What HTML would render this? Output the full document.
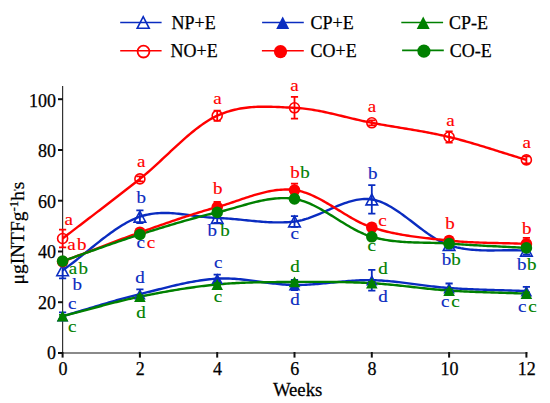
<!DOCTYPE html>
<html><head><meta charset="utf-8"><style>
html,body{margin:0;padding:0;background:#fff;}
svg{display:block;}
.t{font-family:"Liberation Serif",serif;font-size:18px;}
.k{stroke:#000;stroke-width:0.25px;}
</style></head><body>
<svg width="550" height="403" viewBox="0 0 550 403">
<rect width="550" height="403" fill="#fff"/>
<line x1="62.6" y1="86" x2="62.6" y2="353" stroke="#333" stroke-width="1.2"/>
<line x1="62.6" y1="352.9" x2="527.4" y2="352.9" stroke="#8a8a8a" stroke-width="2"/>
<line x1="58" y1="353.0" x2="63" y2="353.0" stroke="#111" stroke-width="2"/>
<text x="56" y="359.0" text-anchor="end" class="t k">0</text>
<line x1="58" y1="302.2" x2="63" y2="302.2" stroke="#111" stroke-width="2"/>
<text x="56" y="308.6" text-anchor="end" class="t k">20</text>
<line x1="58" y1="251.5" x2="63" y2="251.5" stroke="#111" stroke-width="2"/>
<text x="56" y="258.2" text-anchor="end" class="t k">40</text>
<line x1="58" y1="200.7" x2="63" y2="200.7" stroke="#111" stroke-width="2"/>
<text x="56" y="207.7" text-anchor="end" class="t k">60</text>
<line x1="58" y1="150.0" x2="63" y2="150.0" stroke="#111" stroke-width="2"/>
<text x="56" y="157.3" text-anchor="end" class="t k">80</text>
<line x1="58" y1="99.2" x2="63" y2="99.2" stroke="#111" stroke-width="2"/>
<text x="56" y="106.9" text-anchor="end" class="t k">100</text>
<line x1="62.6" y1="352" x2="62.6" y2="357.6" stroke="#111" stroke-width="2"/>
<text x="62.9" y="374.5" text-anchor="middle" class="t k">0</text>
<line x1="139.9" y1="352" x2="139.9" y2="357.6" stroke="#111" stroke-width="2"/>
<text x="140.2" y="374.5" text-anchor="middle" class="t k">2</text>
<line x1="217.2" y1="352" x2="217.2" y2="357.6" stroke="#111" stroke-width="2"/>
<text x="217.5" y="374.5" text-anchor="middle" class="t k">4</text>
<line x1="294.5" y1="352" x2="294.5" y2="357.6" stroke="#111" stroke-width="2"/>
<text x="294.8" y="374.5" text-anchor="middle" class="t k">6</text>
<line x1="371.8" y1="352" x2="371.8" y2="357.6" stroke="#111" stroke-width="2"/>
<text x="372.1" y="374.5" text-anchor="middle" class="t k">8</text>
<line x1="449.1" y1="352" x2="449.1" y2="357.6" stroke="#111" stroke-width="2"/>
<text x="449.4" y="374.5" text-anchor="middle" class="t k">10</text>
<line x1="526.4" y1="352" x2="526.4" y2="357.6" stroke="#111" stroke-width="2"/>
<text x="526.7" y="374.5" text-anchor="middle" class="t k">12</text>
<text transform="translate(297.6,395.5) scale(1.04,1)" text-anchor="middle" class="t k">Weeks</text>
<text transform="translate(23.9,284.5) rotate(-90) scale(1.08,1)" class="t k">μgINTFg<tspan dy="-6" font-size="12">-1</tspan><tspan dy="6">h</tspan><tspan dy="-4" style="font-size:9px">&#39;</tspan><tspan dy="4">s</tspan></text>
<path d="M62.60,238.54 L64.53,237.05 L66.47,235.56 L68.40,234.07 L70.33,232.59 L72.26,231.11 L74.20,229.62 L76.13,228.14 L78.06,226.66 L79.99,225.19 L81.92,223.71 L83.86,222.23 L85.79,220.76 L87.72,219.28 L89.66,217.80 L91.59,216.33 L93.52,214.85 L95.45,213.37 L97.38,211.89 L99.32,210.42 L101.25,208.94 L103.18,207.46 L105.12,205.97 L107.05,204.49 L108.98,203.01 L110.91,201.52 L112.84,200.03 L114.78,198.54 L116.71,197.05 L118.64,195.55 L120.57,194.05 L122.51,192.55 L124.44,191.05 L126.37,189.54 L128.31,188.03 L130.24,186.52 L132.17,185.00 L134.10,183.48 L136.03,181.96 L137.97,180.43 L139.90,178.89 L141.83,177.34 L143.77,175.75 L145.70,174.12 L147.63,172.47 L149.56,170.79 L151.50,169.08 L153.43,167.35 L155.36,165.60 L157.29,163.83 L159.22,162.05 L161.16,160.25 L163.09,158.45 L165.02,156.65 L166.96,154.83 L168.89,153.02 L170.82,151.21 L172.75,149.41 L174.69,147.62 L176.62,145.83 L178.55,144.06 L180.48,142.30 L182.41,140.57 L184.35,138.85 L186.28,137.16 L188.21,135.50 L190.15,133.87 L192.08,132.27 L194.01,130.70 L195.94,129.17 L197.88,127.69 L199.81,126.25 L201.74,124.85 L203.67,123.51 L205.60,122.21 L207.54,120.97 L209.47,119.79 L211.40,118.67 L213.34,117.61 L215.27,116.62 L217.20,115.70 L219.13,114.84 L221.06,114.03 L223.00,113.27 L224.93,112.57 L226.86,111.91 L228.79,111.30 L230.73,110.74 L232.66,110.22 L234.59,109.74 L236.52,109.30 L238.46,108.91 L240.39,108.55 L242.32,108.23 L244.25,107.94 L246.19,107.69 L248.12,107.47 L250.05,107.28 L251.99,107.12 L253.92,106.99 L255.85,106.88 L257.78,106.79 L259.72,106.73 L261.65,106.69 L263.58,106.68 L265.51,106.68 L267.45,106.69 L269.38,106.72 L271.31,106.77 L273.24,106.83 L275.18,106.89 L277.11,106.97 L279.04,107.06 L280.97,107.15 L282.91,107.24 L284.84,107.34 L286.77,107.44 L288.70,107.54 L290.63,107.64 L292.57,107.74 L294.50,107.83 L296.43,107.93 L298.37,108.06 L300.30,108.22 L302.23,108.40 L304.16,108.61 L306.10,108.84 L308.03,109.10 L309.96,109.37 L311.89,109.67 L313.82,109.98 L315.76,110.32 L317.69,110.67 L319.62,111.03 L321.56,111.41 L323.49,111.80 L325.42,112.21 L327.35,112.63 L329.29,113.06 L331.22,113.49 L333.15,113.94 L335.08,114.39 L337.02,114.84 L338.95,115.31 L340.88,115.77 L342.81,116.24 L344.75,116.71 L346.68,117.18 L348.61,117.65 L350.54,118.11 L352.48,118.58 L354.41,119.04 L356.34,119.49 L358.27,119.94 L360.21,120.38 L362.14,120.81 L364.07,121.23 L366.00,121.65 L367.94,122.04 L369.87,122.43 L371.80,122.80 L373.73,123.17 L375.67,123.52 L377.60,123.87 L379.53,124.22 L381.46,124.56 L383.40,124.89 L385.33,125.23 L387.26,125.56 L389.19,125.88 L391.12,126.21 L393.06,126.53 L394.99,126.85 L396.92,127.17 L398.86,127.49 L400.79,127.81 L402.72,128.13 L404.65,128.45 L406.59,128.77 L408.52,129.09 L410.45,129.42 L412.38,129.75 L414.31,130.08 L416.25,130.41 L418.18,130.75 L420.11,131.09 L422.05,131.43 L423.98,131.79 L425.91,132.14 L427.84,132.50 L429.78,132.87 L431.71,133.25 L433.64,133.63 L435.57,134.02 L437.51,134.42 L439.44,134.83 L441.37,135.25 L443.30,135.68 L445.24,136.11 L447.17,136.56 L449.10,137.02 L451.03,137.48 L452.97,137.96 L454.90,138.45 L456.83,138.95 L458.76,139.46 L460.70,139.97 L462.63,140.50 L464.56,141.03 L466.49,141.57 L468.43,142.12 L470.36,142.67 L472.29,143.23 L474.22,143.80 L476.16,144.37 L478.09,144.95 L480.02,145.53 L481.95,146.12 L483.89,146.71 L485.82,147.30 L487.75,147.90 L489.68,148.50 L491.62,149.10 L493.55,149.70 L495.48,150.31 L497.41,150.91 L499.35,151.52 L501.28,152.13 L503.21,152.73 L505.14,153.34 L507.07,153.95 L509.01,154.55 L510.94,155.15 L512.87,155.75 L514.81,156.35 L516.74,156.94 L518.67,157.54 L520.60,158.12 L522.53,158.71 L524.47,159.28 L526.40,159.86" fill="none" stroke="#ff0000" stroke-width="2.4"/>
<path d="M62.60,270.26 L64.53,268.91 L66.47,267.52 L68.40,266.10 L70.33,264.66 L72.26,263.19 L74.20,261.70 L76.13,260.20 L78.06,258.67 L79.99,257.14 L81.92,255.59 L83.86,254.03 L85.79,252.47 L87.72,250.90 L89.66,249.34 L91.59,247.77 L93.52,246.21 L95.45,244.65 L97.38,243.11 L99.32,241.58 L101.25,240.06 L103.18,238.56 L105.12,237.08 L107.05,235.62 L108.98,234.18 L110.91,232.78 L112.84,231.40 L114.78,230.05 L116.71,228.75 L118.64,227.47 L120.57,226.24 L122.51,225.05 L124.44,223.91 L126.37,222.82 L128.31,221.77 L130.24,220.78 L132.17,219.84 L134.10,218.97 L136.03,218.15 L137.97,217.40 L139.90,216.71 L141.83,216.09 L143.77,215.53 L145.70,215.04 L147.63,214.61 L149.56,214.23 L151.50,213.91 L153.43,213.64 L155.36,213.42 L157.29,213.25 L159.22,213.12 L161.16,213.03 L163.09,212.99 L165.02,212.98 L166.96,213.01 L168.89,213.07 L170.82,213.16 L172.75,213.28 L174.69,213.42 L176.62,213.59 L178.55,213.77 L180.48,213.98 L182.41,214.20 L184.35,214.43 L186.28,214.67 L188.21,214.93 L190.15,215.18 L192.08,215.44 L194.01,215.70 L195.94,215.96 L197.88,216.22 L199.81,216.46 L201.74,216.70 L203.67,216.93 L205.60,217.14 L207.54,217.34 L209.47,217.51 L211.40,217.67 L213.34,217.80 L215.27,217.90 L217.20,217.98 L219.13,218.05 L221.06,218.13 L223.00,218.24 L224.93,218.36 L226.86,218.49 L228.79,218.63 L230.73,218.79 L232.66,218.95 L234.59,219.13 L236.52,219.31 L238.46,219.49 L240.39,219.68 L242.32,219.88 L244.25,220.07 L246.19,220.27 L248.12,220.47 L250.05,220.66 L251.99,220.85 L253.92,221.03 L255.85,221.21 L257.78,221.39 L259.72,221.55 L261.65,221.70 L263.58,221.85 L265.51,221.98 L267.45,222.09 L269.38,222.19 L271.31,222.28 L273.24,222.34 L275.18,222.39 L277.11,222.42 L279.04,222.42 L280.97,222.41 L282.91,222.37 L284.84,222.30 L286.77,222.20 L288.70,222.08 L290.63,221.93 L292.57,221.75 L294.50,221.53 L296.43,221.26 L298.37,220.93 L300.30,220.52 L302.23,220.06 L304.16,219.53 L306.10,218.96 L308.03,218.34 L309.96,217.67 L311.89,216.97 L313.82,216.23 L315.76,215.45 L317.69,214.66 L319.62,213.84 L321.56,213.00 L323.49,212.15 L325.42,211.29 L327.35,210.43 L329.29,209.57 L331.22,208.71 L333.15,207.86 L335.08,207.02 L337.02,206.20 L338.95,205.41 L340.88,204.63 L342.81,203.89 L344.75,203.19 L346.68,202.52 L348.61,201.90 L350.54,201.33 L352.48,200.81 L354.41,200.34 L356.34,199.94 L358.27,199.60 L360.21,199.34 L362.14,199.14 L364.07,199.03 L366.00,199.00 L367.94,199.06 L369.87,199.21 L371.80,199.45 L373.73,199.80 L375.67,200.25 L377.60,200.81 L379.53,201.46 L381.46,202.19 L383.40,203.02 L385.33,203.92 L387.26,204.89 L389.19,205.94 L391.12,207.05 L393.06,208.22 L394.99,209.44 L396.92,210.71 L398.86,212.03 L400.79,213.38 L402.72,214.77 L404.65,216.19 L406.59,217.63 L408.52,219.09 L410.45,220.56 L412.38,222.05 L414.31,223.53 L416.25,225.02 L418.18,226.50 L420.11,227.96 L422.05,229.41 L423.98,230.84 L425.91,232.24 L427.84,233.61 L429.78,234.95 L431.71,236.24 L433.64,237.48 L435.57,238.67 L437.51,239.81 L439.44,240.88 L441.37,241.89 L443.30,242.82 L445.24,243.68 L447.17,244.45 L449.10,245.13 L451.03,245.75 L452.97,246.32 L454.90,246.84 L456.83,247.32 L458.76,247.75 L460.70,248.15 L462.63,248.50 L464.56,248.82 L466.49,249.10 L468.43,249.35 L470.36,249.57 L472.29,249.76 L474.22,249.92 L476.16,250.05 L478.09,250.17 L480.02,250.26 L481.95,250.33 L483.89,250.38 L485.82,250.41 L487.75,250.43 L489.68,250.44 L491.62,250.44 L493.55,250.43 L495.48,250.41 L497.41,250.39 L499.35,250.36 L501.28,250.33 L503.21,250.31 L505.14,250.28 L507.07,250.26 L509.01,250.25 L510.94,250.24 L512.87,250.25 L514.81,250.26 L516.74,250.29 L518.67,250.34 L520.60,250.40 L522.53,250.49 L524.47,250.59 L526.40,250.72" fill="none" stroke="#0a2cc0" stroke-width="2.4"/>
<path d="M62.60,261.63 L64.53,260.90 L66.47,260.17 L68.40,259.43 L70.33,258.70 L72.26,257.96 L74.20,257.22 L76.13,256.48 L78.06,255.73 L79.99,254.99 L81.92,254.25 L83.86,253.50 L85.79,252.76 L87.72,252.01 L89.66,251.26 L91.59,250.52 L93.52,249.77 L95.45,249.03 L97.38,248.29 L99.32,247.54 L101.25,246.80 L103.18,246.06 L105.12,245.32 L107.05,244.58 L108.98,243.85 L110.91,243.11 L112.84,242.38 L114.78,241.65 L116.71,240.92 L118.64,240.20 L120.57,239.47 L122.51,238.75 L124.44,238.04 L126.37,237.33 L128.31,236.62 L130.24,235.91 L132.17,235.21 L134.10,234.51 L136.03,233.82 L137.97,233.13 L139.90,232.44 L141.83,231.76 L143.77,231.08 L145.70,230.40 L147.63,229.72 L149.56,229.03 L151.50,228.35 L153.43,227.67 L155.36,226.99 L157.29,226.31 L159.22,225.64 L161.16,224.96 L163.09,224.29 L165.02,223.62 L166.96,222.95 L168.89,222.28 L170.82,221.62 L172.75,220.96 L174.69,220.30 L176.62,219.64 L178.55,218.99 L180.48,218.35 L182.41,217.70 L184.35,217.07 L186.28,216.43 L188.21,215.80 L190.15,215.18 L192.08,214.56 L194.01,213.94 L195.94,213.33 L197.88,212.73 L199.81,212.13 L201.74,211.54 L203.67,210.96 L205.60,210.38 L207.54,209.81 L209.47,209.25 L211.40,208.69 L213.34,208.14 L215.27,207.60 L217.20,207.06 L219.13,206.52 L221.06,205.96 L223.00,205.38 L224.93,204.78 L226.86,204.17 L228.79,203.54 L230.73,202.90 L232.66,202.26 L234.59,201.61 L236.52,200.95 L238.46,200.29 L240.39,199.64 L242.32,198.98 L244.25,198.33 L246.19,197.69 L248.12,197.05 L250.05,196.43 L251.99,195.82 L253.92,195.22 L255.85,194.64 L257.78,194.09 L259.72,193.55 L261.65,193.04 L263.58,192.55 L265.51,192.09 L267.45,191.66 L269.38,191.27 L271.31,190.91 L273.24,190.58 L275.18,190.30 L277.11,190.05 L279.04,189.85 L280.97,189.70 L282.91,189.59 L284.84,189.53 L286.77,189.52 L288.70,189.57 L290.63,189.68 L292.57,189.84 L294.50,190.06 L296.43,190.36 L298.37,190.73 L300.30,191.18 L302.23,191.70 L304.16,192.29 L306.10,192.94 L308.03,193.66 L309.96,194.43 L311.89,195.26 L313.82,196.13 L315.76,197.06 L317.69,198.02 L319.62,199.02 L321.56,200.06 L323.49,201.13 L325.42,202.23 L327.35,203.35 L329.29,204.50 L331.22,205.65 L333.15,206.83 L335.08,208.01 L337.02,209.20 L338.95,210.39 L340.88,211.57 L342.81,212.76 L344.75,213.93 L346.68,215.09 L348.61,216.24 L350.54,217.36 L352.48,218.46 L354.41,219.54 L356.34,220.58 L358.27,221.59 L360.21,222.56 L362.14,223.49 L364.07,224.37 L366.00,225.20 L367.94,225.98 L369.87,226.71 L371.80,227.37 L373.73,227.99 L375.67,228.58 L377.60,229.16 L379.53,229.71 L381.46,230.24 L383.40,230.75 L385.33,231.24 L387.26,231.71 L389.19,232.16 L391.12,232.60 L393.06,233.01 L394.99,233.41 L396.92,233.80 L398.86,234.16 L400.79,234.52 L402.72,234.86 L404.65,235.19 L406.59,235.50 L408.52,235.80 L410.45,236.09 L412.38,236.37 L414.31,236.64 L416.25,236.91 L418.18,237.16 L420.11,237.40 L422.05,237.64 L423.98,237.87 L425.91,238.09 L427.84,238.31 L429.78,238.53 L431.71,238.74 L433.64,238.95 L435.57,239.15 L437.51,239.35 L439.44,239.56 L441.37,239.76 L443.30,239.96 L445.24,240.16 L447.17,240.36 L449.10,240.57 L451.03,240.77 L452.97,240.95 L454.90,241.13 L456.83,241.30 L458.76,241.45 L460.70,241.60 L462.63,241.73 L464.56,241.86 L466.49,241.98 L468.43,242.09 L470.36,242.19 L472.29,242.28 L474.22,242.37 L476.16,242.45 L478.09,242.53 L480.02,242.60 L481.95,242.66 L483.89,242.73 L485.82,242.78 L487.75,242.83 L489.68,242.89 L491.62,242.93 L493.55,242.98 L495.48,243.02 L497.41,243.06 L499.35,243.11 L501.28,243.15 L503.21,243.19 L505.14,243.23 L507.07,243.27 L509.01,243.32 L510.94,243.36 L512.87,243.41 L514.81,243.47 L516.74,243.52 L518.67,243.58 L520.60,243.64 L522.53,243.71 L524.47,243.79 L526.40,243.87" fill="none" stroke="#ff0000" stroke-width="2.4"/>
<path d="M62.60,316.20 L64.53,315.64 L66.47,315.09 L68.40,314.53 L70.33,313.96 L72.26,313.39 L74.20,312.82 L76.13,312.25 L78.06,311.68 L79.99,311.10 L81.92,310.52 L83.86,309.95 L85.79,309.37 L87.72,308.79 L89.66,308.21 L91.59,307.63 L93.52,307.05 L95.45,306.47 L97.38,305.90 L99.32,305.32 L101.25,304.75 L103.18,304.17 L105.12,303.61 L107.05,303.04 L108.98,302.48 L110.91,301.92 L112.84,301.36 L114.78,300.81 L116.71,300.26 L118.64,299.71 L120.57,299.17 L122.51,298.64 L124.44,298.11 L126.37,297.59 L128.31,297.07 L130.24,296.56 L132.17,296.06 L134.10,295.56 L136.03,295.07 L137.97,294.59 L139.90,294.12 L141.83,293.65 L143.77,293.17 L145.70,292.69 L147.63,292.20 L149.56,291.72 L151.50,291.23 L153.43,290.74 L155.36,290.25 L157.29,289.76 L159.22,289.27 L161.16,288.79 L163.09,288.30 L165.02,287.82 L166.96,287.34 L168.89,286.87 L170.82,286.40 L172.75,285.94 L174.69,285.49 L176.62,285.04 L178.55,284.60 L180.48,284.17 L182.41,283.75 L184.35,283.34 L186.28,282.94 L188.21,282.55 L190.15,282.18 L192.08,281.82 L194.01,281.47 L195.94,281.14 L197.88,280.82 L199.81,280.52 L201.74,280.23 L203.67,279.96 L205.60,279.71 L207.54,279.48 L209.47,279.27 L211.40,279.08 L213.34,278.91 L215.27,278.76 L217.20,278.64 L219.13,278.54 L221.06,278.47 L223.00,278.44 L224.93,278.44 L226.86,278.46 L228.79,278.51 L230.73,278.59 L232.66,278.69 L234.59,278.81 L236.52,278.95 L238.46,279.11 L240.39,279.29 L242.32,279.48 L244.25,279.69 L246.19,279.91 L248.12,280.14 L250.05,280.38 L251.99,280.63 L253.92,280.88 L255.85,281.14 L257.78,281.41 L259.72,281.67 L261.65,281.94 L263.58,282.20 L265.51,282.46 L267.45,282.72 L269.38,282.97 L271.31,283.21 L273.24,283.45 L275.18,283.67 L277.11,283.88 L279.04,284.08 L280.97,284.26 L282.91,284.43 L284.84,284.57 L286.77,284.70 L288.70,284.81 L290.63,284.89 L292.57,284.95 L294.50,284.98 L296.43,284.99 L298.37,284.98 L300.30,284.95 L302.23,284.89 L304.16,284.83 L306.10,284.74 L308.03,284.64 L309.96,284.53 L311.89,284.40 L313.82,284.26 L315.76,284.11 L317.69,283.96 L319.62,283.79 L321.56,283.61 L323.49,283.43 L325.42,283.25 L327.35,283.06 L329.29,282.87 L331.22,282.67 L333.15,282.48 L335.08,282.28 L337.02,282.09 L338.95,281.90 L340.88,281.71 L342.81,281.53 L344.75,281.35 L346.68,281.19 L348.61,281.03 L350.54,280.87 L352.48,280.73 L354.41,280.61 L356.34,280.49 L358.27,280.39 L360.21,280.30 L362.14,280.23 L364.07,280.18 L366.00,280.14 L367.94,280.13 L369.87,280.13 L371.80,280.16 L373.73,280.21 L375.67,280.27 L377.60,280.35 L379.53,280.45 L381.46,280.57 L383.40,280.70 L385.33,280.84 L387.26,281.00 L389.19,281.17 L391.12,281.35 L393.06,281.54 L394.99,281.74 L396.92,281.95 L398.86,282.17 L400.79,282.39 L402.72,282.62 L404.65,282.86 L406.59,283.10 L408.52,283.35 L410.45,283.60 L412.38,283.85 L414.31,284.11 L416.25,284.36 L418.18,284.62 L420.11,284.87 L422.05,285.12 L423.98,285.37 L425.91,285.62 L427.84,285.86 L429.78,286.10 L431.71,286.33 L433.64,286.56 L435.57,286.78 L437.51,286.99 L439.44,287.19 L441.37,287.38 L443.30,287.56 L445.24,287.73 L447.17,287.88 L449.10,288.03 L451.03,288.16 L452.97,288.29 L454.90,288.41 L456.83,288.53 L458.76,288.64 L460.70,288.75 L462.63,288.85 L464.56,288.94 L466.49,289.04 L468.43,289.13 L470.36,289.21 L472.29,289.30 L474.22,289.37 L476.16,289.45 L478.09,289.52 L480.02,289.59 L481.95,289.66 L483.89,289.73 L485.82,289.79 L487.75,289.85 L489.68,289.91 L491.62,289.97 L493.55,290.03 L495.48,290.09 L497.41,290.14 L499.35,290.20 L501.28,290.25 L503.21,290.31 L505.14,290.37 L507.07,290.42 L509.01,290.48 L510.94,290.54 L512.87,290.60 L514.81,290.66 L516.74,290.73 L518.67,290.79 L520.60,290.86 L522.53,290.93 L524.47,291.00 L526.40,291.07" fill="none" stroke="#0a2cc0" stroke-width="2.4"/>
<path d="M62.60,261.12 L64.53,260.46 L66.47,259.79 L68.40,259.11 L70.33,258.44 L72.26,257.76 L74.20,257.08 L76.13,256.40 L78.06,255.72 L79.99,255.04 L81.92,254.36 L83.86,253.67 L85.79,252.99 L87.72,252.30 L89.66,251.62 L91.59,250.93 L93.52,250.25 L95.45,249.56 L97.38,248.88 L99.32,248.20 L101.25,247.51 L103.18,246.83 L105.12,246.16 L107.05,245.48 L108.98,244.81 L110.91,244.13 L112.84,243.46 L114.78,242.80 L116.71,242.13 L118.64,241.47 L120.57,240.82 L122.51,240.16 L124.44,239.51 L126.37,238.87 L128.31,238.23 L130.24,237.59 L132.17,236.96 L134.10,236.33 L136.03,235.70 L137.97,235.09 L139.90,234.48 L141.83,233.87 L143.77,233.26 L145.70,232.65 L147.63,232.04 L149.56,231.44 L151.50,230.83 L153.43,230.23 L155.36,229.63 L157.29,229.03 L159.22,228.43 L161.16,227.84 L163.09,227.24 L165.02,226.65 L166.96,226.07 L168.89,225.48 L170.82,224.90 L172.75,224.32 L174.69,223.75 L176.62,223.18 L178.55,222.61 L180.48,222.05 L182.41,221.49 L184.35,220.94 L186.28,220.39 L188.21,219.84 L190.15,219.30 L192.08,218.77 L194.01,218.24 L195.94,217.72 L197.88,217.20 L199.81,216.69 L201.74,216.19 L203.67,215.69 L205.60,215.20 L207.54,214.71 L209.47,214.23 L211.40,213.76 L213.34,213.30 L215.27,212.84 L217.20,212.39 L219.13,211.94 L221.06,211.47 L223.00,210.98 L224.93,210.47 L226.86,209.95 L228.79,209.42 L230.73,208.88 L232.66,208.33 L234.59,207.78 L236.52,207.22 L238.46,206.67 L240.39,206.11 L242.32,205.56 L244.25,205.01 L246.19,204.47 L248.12,203.93 L250.05,203.41 L251.99,202.90 L253.92,202.40 L255.85,201.93 L257.78,201.47 L259.72,201.03 L261.65,200.61 L263.58,200.22 L265.51,199.85 L267.45,199.52 L269.38,199.21 L271.31,198.94 L273.24,198.70 L275.18,198.50 L277.11,198.34 L279.04,198.21 L280.97,198.14 L282.91,198.10 L284.84,198.11 L286.77,198.17 L288.70,198.28 L290.63,198.45 L292.57,198.67 L294.50,198.94 L296.43,199.29 L298.37,199.71 L300.30,200.22 L302.23,200.79 L304.16,201.43 L306.10,202.13 L308.03,202.90 L309.96,203.72 L311.89,204.60 L313.82,205.52 L315.76,206.49 L317.69,207.50 L319.62,208.54 L321.56,209.62 L323.49,210.73 L325.42,211.86 L327.35,213.02 L329.29,214.20 L331.22,215.38 L333.15,216.58 L335.08,217.79 L337.02,218.99 L338.95,220.20 L340.88,221.40 L342.81,222.59 L344.75,223.77 L346.68,224.93 L348.61,226.08 L350.54,227.19 L352.48,228.28 L354.41,229.34 L356.34,230.36 L358.27,231.34 L360.21,232.27 L362.14,233.16 L364.07,234.00 L366.00,234.78 L367.94,235.51 L369.87,236.17 L371.80,236.76 L373.73,237.30 L375.67,237.80 L377.60,238.27 L379.53,238.71 L381.46,239.12 L383.40,239.49 L385.33,239.83 L387.26,240.15 L389.19,240.44 L391.12,240.71 L393.06,240.95 L394.99,241.17 L396.92,241.37 L398.86,241.55 L400.79,241.71 L402.72,241.85 L404.65,241.98 L406.59,242.09 L408.52,242.19 L410.45,242.28 L412.38,242.36 L414.31,242.43 L416.25,242.49 L418.18,242.54 L420.11,242.59 L422.05,242.63 L423.98,242.68 L425.91,242.72 L427.84,242.76 L429.78,242.80 L431.71,242.85 L433.64,242.90 L435.57,242.96 L437.51,243.02 L439.44,243.09 L441.37,243.17 L443.30,243.26 L445.24,243.36 L447.17,243.48 L449.10,243.61 L451.03,243.75 L452.97,243.89 L454.90,244.02 L456.83,244.15 L458.76,244.27 L460.70,244.40 L462.63,244.52 L464.56,244.64 L466.49,244.75 L468.43,244.87 L470.36,244.98 L472.29,245.09 L474.22,245.20 L476.16,245.31 L478.09,245.42 L480.02,245.52 L481.95,245.62 L483.89,245.73 L485.82,245.83 L487.75,245.93 L489.68,246.03 L491.62,246.13 L493.55,246.22 L495.48,246.32 L497.41,246.42 L499.35,246.52 L501.28,246.62 L503.21,246.71 L505.14,246.81 L507.07,246.91 L509.01,247.01 L510.94,247.10 L512.87,247.20 L514.81,247.30 L516.74,247.40 L518.67,247.51 L520.60,247.61 L522.53,247.71 L524.47,247.82 L526.40,247.93" fill="none" stroke="#008000" stroke-width="2.4"/>
<path d="M62.60,316.20 L64.53,315.71 L66.47,315.21 L68.40,314.71 L70.33,314.21 L72.26,313.71 L74.20,313.20 L76.13,312.69 L78.06,312.17 L79.99,311.66 L81.92,311.14 L83.86,310.62 L85.79,310.10 L87.72,309.59 L89.66,309.07 L91.59,308.55 L93.52,308.03 L95.45,307.51 L97.38,306.99 L99.32,306.48 L101.25,305.97 L103.18,305.46 L105.12,304.95 L107.05,304.44 L108.98,303.94 L110.91,303.45 L112.84,302.95 L114.78,302.46 L116.71,301.98 L118.64,301.50 L120.57,301.02 L122.51,300.56 L124.44,300.09 L126.37,299.64 L128.31,299.19 L130.24,298.75 L132.17,298.31 L134.10,297.89 L136.03,297.47 L137.97,297.06 L139.90,296.66 L141.83,296.26 L143.77,295.87 L145.70,295.48 L147.63,295.10 L149.56,294.72 L151.50,294.34 L153.43,293.96 L155.36,293.59 L157.29,293.23 L159.22,292.87 L161.16,292.51 L163.09,292.16 L165.02,291.81 L166.96,291.46 L168.89,291.13 L170.82,290.79 L172.75,290.46 L174.69,290.14 L176.62,289.82 L178.55,289.50 L180.48,289.19 L182.41,288.89 L184.35,288.59 L186.28,288.30 L188.21,288.01 L190.15,287.73 L192.08,287.46 L194.01,287.19 L195.94,286.93 L197.88,286.67 L199.81,286.42 L201.74,286.18 L203.67,285.94 L205.60,285.71 L207.54,285.48 L209.47,285.27 L211.40,285.06 L213.34,284.86 L215.27,284.66 L217.20,284.47 L219.13,284.29 L221.06,284.12 L223.00,283.96 L224.93,283.81 L226.86,283.67 L228.79,283.53 L230.73,283.41 L232.66,283.29 L234.59,283.18 L236.52,283.07 L238.46,282.97 L240.39,282.88 L242.32,282.80 L244.25,282.72 L246.19,282.65 L248.12,282.58 L250.05,282.52 L251.99,282.46 L253.92,282.41 L255.85,282.36 L257.78,282.32 L259.72,282.28 L261.65,282.25 L263.58,282.21 L265.51,282.19 L267.45,282.16 L269.38,282.14 L271.31,282.11 L273.24,282.09 L275.18,282.08 L277.11,282.06 L279.04,282.05 L280.97,282.03 L282.91,282.02 L284.84,282.01 L286.77,281.99 L288.70,281.98 L290.63,281.97 L292.57,281.95 L294.50,281.94 L296.43,281.92 L298.37,281.91 L300.30,281.89 L302.23,281.88 L304.16,281.87 L306.10,281.86 L308.03,281.85 L309.96,281.85 L311.89,281.84 L313.82,281.84 L315.76,281.84 L317.69,281.85 L319.62,281.85 L321.56,281.86 L323.49,281.87 L325.42,281.88 L327.35,281.89 L329.29,281.91 L331.22,281.93 L333.15,281.95 L335.08,281.98 L337.02,282.01 L338.95,282.04 L340.88,282.08 L342.81,282.12 L344.75,282.16 L346.68,282.21 L348.61,282.26 L350.54,282.31 L352.48,282.37 L354.41,282.43 L356.34,282.50 L358.27,282.57 L360.21,282.65 L362.14,282.73 L364.07,282.81 L366.00,282.90 L367.94,283.00 L369.87,283.10 L371.80,283.20 L373.73,283.32 L375.67,283.44 L377.60,283.57 L379.53,283.71 L381.46,283.86 L383.40,284.02 L385.33,284.18 L387.26,284.36 L389.19,284.53 L391.12,284.72 L393.06,284.91 L394.99,285.10 L396.92,285.30 L398.86,285.50 L400.79,285.71 L402.72,285.92 L404.65,286.13 L406.59,286.34 L408.52,286.56 L410.45,286.77 L412.38,286.99 L414.31,287.21 L416.25,287.42 L418.18,287.64 L420.11,287.85 L422.05,288.07 L423.98,288.28 L425.91,288.48 L427.84,288.69 L429.78,288.89 L431.71,289.08 L433.64,289.27 L435.57,289.46 L437.51,289.64 L439.44,289.81 L441.37,289.98 L443.30,290.14 L445.24,290.29 L447.17,290.43 L449.10,290.57 L451.03,290.69 L452.97,290.81 L454.90,290.93 L456.83,291.04 L458.76,291.15 L460.70,291.26 L462.63,291.36 L464.56,291.45 L466.49,291.54 L468.43,291.63 L470.36,291.71 L472.29,291.80 L474.22,291.87 L476.16,291.95 L478.09,292.02 L480.02,292.09 L481.95,292.16 L483.89,292.23 L485.82,292.29 L487.75,292.36 L489.68,292.42 L491.62,292.48 L493.55,292.54 L495.48,292.60 L497.41,292.66 L499.35,292.72 L501.28,292.77 L503.21,292.83 L505.14,292.89 L507.07,292.95 L509.01,293.01 L510.94,293.07 L512.87,293.13 L514.81,293.20 L516.74,293.26 L518.67,293.33 L520.60,293.39 L522.53,293.46 L524.47,293.54 L526.40,293.61" fill="none" stroke="#008000" stroke-width="2.4"/>
<path d="M62.6,229.7V247.4M59.0,229.7H66.2M59.0,247.4H66.2" stroke="#ff0000" stroke-width="1.8" fill="none"/>
<circle cx="62.6" cy="238.5" r="5.0" fill="none" stroke="#ff0000" stroke-width="1.6"/>
<path d="M139.9,176.4V181.4M136.3,176.4H143.5M136.3,181.4H143.5" stroke="#ff0000" stroke-width="1.8" fill="none"/>
<circle cx="139.9" cy="178.9" r="5.0" fill="none" stroke="#ff0000" stroke-width="1.6"/>
<path d="M217.2,110.6V120.8M213.6,110.6H220.8M213.6,120.8H220.8" stroke="#ff0000" stroke-width="1.8" fill="none"/>
<circle cx="217.2" cy="115.7" r="5.0" fill="none" stroke="#ff0000" stroke-width="1.6"/>
<path d="M294.5,96.9V118.7M290.9,96.9H298.1M290.9,118.7H298.1" stroke="#ff0000" stroke-width="1.8" fill="none"/>
<circle cx="294.5" cy="107.8" r="5.0" fill="none" stroke="#ff0000" stroke-width="1.6"/>
<path d="M371.8,120.3V125.3M368.2,120.3H375.4M368.2,125.3H375.4" stroke="#ff0000" stroke-width="1.8" fill="none"/>
<circle cx="371.8" cy="122.8" r="5.0" fill="none" stroke="#ff0000" stroke-width="1.6"/>
<path d="M449.1,131.4V142.6M445.5,131.4H452.7M445.5,142.6H452.7" stroke="#ff0000" stroke-width="1.8" fill="none"/>
<circle cx="449.1" cy="137.0" r="5.0" fill="none" stroke="#ff0000" stroke-width="1.6"/>
<path d="M526.4,156.3V163.4M522.8,156.3H530.0M522.8,163.4H530.0" stroke="#ff0000" stroke-width="1.8" fill="none"/>
<circle cx="526.4" cy="159.9" r="5.0" fill="none" stroke="#ff0000" stroke-width="1.6"/>
<path d="M62.6,262.1V278.4M59.0,262.1H66.2M59.0,278.4H66.2" stroke="#0a2cc0" stroke-width="1.8" fill="none"/>
<polygon points="62.6,264.9 68.4,275.7 56.8,275.7" fill="none" stroke="#0a2cc0" stroke-width="1.6"/>
<path d="M139.9,210.4V223.1M136.3,210.4H143.5M136.3,223.1H143.5" stroke="#0a2cc0" stroke-width="1.8" fill="none"/>
<polygon points="139.9,211.3 145.7,222.1 134.1,222.1" fill="none" stroke="#0a2cc0" stroke-width="1.6"/>
<path d="M217.2,213.2V222.8M213.6,213.2H220.8M213.6,222.8H220.8" stroke="#0a2cc0" stroke-width="1.8" fill="none"/>
<polygon points="217.2,212.6 223.0,223.4 211.4,223.4" fill="none" stroke="#0a2cc0" stroke-width="1.6"/>
<path d="M294.5,216.2V226.9M290.9,216.2H298.1M290.9,226.9H298.1" stroke="#0a2cc0" stroke-width="1.8" fill="none"/>
<polygon points="294.5,216.1 300.3,226.9 288.7,226.9" fill="none" stroke="#0a2cc0" stroke-width="1.6"/>
<path d="M371.8,185.2V213.7M368.2,185.2H375.4M368.2,213.7H375.4" stroke="#0a2cc0" stroke-width="1.8" fill="none"/>
<polygon points="371.8,194.1 377.6,204.9 366.0,204.9" fill="none" stroke="#0a2cc0" stroke-width="1.6"/>
<path d="M449.1,241.3V248.9M445.5,241.3H452.7M445.5,248.9H452.7" stroke="#0a2cc0" stroke-width="1.8" fill="none"/>
<polygon points="449.1,239.7 454.9,250.5 443.3,250.5" fill="none" stroke="#0a2cc0" stroke-width="1.6"/>
<path d="M526.4,246.9V254.5M522.8,246.9H530.0M522.8,254.5H530.0" stroke="#0a2cc0" stroke-width="1.8" fill="none"/>
<polygon points="526.4,245.3 532.2,256.1 520.6,256.1" fill="none" stroke="#0a2cc0" stroke-width="1.6"/>
<path d="M62.6,257.8V265.4M59.0,257.8H66.2M59.0,265.4H66.2" stroke="#ff0000" stroke-width="1.8" fill="none"/>
<circle cx="62.6" cy="261.6" r="5.8" fill="#ff0000"/>
<path d="M139.9,228.6V236.3M136.3,228.6H143.5M136.3,236.3H143.5" stroke="#ff0000" stroke-width="1.8" fill="none"/>
<circle cx="139.9" cy="232.4" r="5.8" fill="#ff0000"/>
<path d="M217.2,202.0V212.1M213.6,202.0H220.8M213.6,212.1H220.8" stroke="#ff0000" stroke-width="1.8" fill="none"/>
<circle cx="217.2" cy="207.1" r="5.8" fill="#ff0000"/>
<path d="M294.5,183.7V196.4M290.9,183.7H298.1M290.9,196.4H298.1" stroke="#ff0000" stroke-width="1.8" fill="none"/>
<circle cx="294.5" cy="190.1" r="5.8" fill="#ff0000"/>
<path d="M371.8,223.6V231.2M368.2,223.6H375.4M368.2,231.2H375.4" stroke="#ff0000" stroke-width="1.8" fill="none"/>
<circle cx="371.8" cy="227.4" r="5.8" fill="#ff0000"/>
<path d="M449.1,236.8V244.4M445.5,236.8H452.7M445.5,244.4H452.7" stroke="#ff0000" stroke-width="1.8" fill="none"/>
<circle cx="449.1" cy="240.6" r="5.8" fill="#ff0000"/>
<path d="M526.4,237.8V250.0M522.8,237.8H530.0M522.8,250.0H530.0" stroke="#ff0000" stroke-width="1.8" fill="none"/>
<circle cx="526.4" cy="243.9" r="5.8" fill="#ff0000"/>
<path d="M62.6,312.4V320.0M59.0,312.4H66.2M59.0,320.0H66.2" stroke="#0a2cc0" stroke-width="1.8" fill="none"/>
<polygon points="62.6,310.8 68.4,321.6 56.8,321.6" fill="#0a2cc0"/>
<path d="M139.9,289.3V298.9M136.3,289.3H143.5M136.3,298.9H143.5" stroke="#0a2cc0" stroke-width="1.8" fill="none"/>
<polygon points="139.9,288.7 145.7,299.5 134.1,299.5" fill="#0a2cc0"/>
<path d="M217.2,274.6V282.7M213.6,274.6H220.8M213.6,282.7H220.8" stroke="#0a2cc0" stroke-width="1.8" fill="none"/>
<polygon points="217.2,273.2 223.0,284.0 211.4,284.0" fill="#0a2cc0"/>
<path d="M294.5,279.9V290.1M290.9,279.9H298.1M290.9,290.1H298.1" stroke="#0a2cc0" stroke-width="1.8" fill="none"/>
<polygon points="294.5,279.6 300.3,290.4 288.7,290.4" fill="#0a2cc0"/>
<path d="M371.8,269.8V290.6M368.2,269.8H375.4M368.2,290.6H375.4" stroke="#0a2cc0" stroke-width="1.8" fill="none"/>
<polygon points="371.8,274.8 377.6,285.6 366.0,285.6" fill="#0a2cc0"/>
<path d="M449.1,283.5V292.6M445.5,283.5H452.7M445.5,292.6H452.7" stroke="#0a2cc0" stroke-width="1.8" fill="none"/>
<polygon points="449.1,282.6 454.9,293.4 443.3,293.4" fill="#0a2cc0"/>
<path d="M526.4,286.8V295.4M522.8,286.8H530.0M522.8,295.4H530.0" stroke="#0a2cc0" stroke-width="1.8" fill="none"/>
<polygon points="526.4,285.7 532.2,296.5 520.6,296.5" fill="#0a2cc0"/>
<path d="M62.6,259.9V262.4M59.0,259.9H66.2M59.0,262.4H66.2" stroke="#008000" stroke-width="1.8" fill="none"/>
<circle cx="62.6" cy="261.1" r="5.8" fill="#008000"/>
<path d="M139.9,233.2V235.7M136.3,233.2H143.5M136.3,235.7H143.5" stroke="#008000" stroke-width="1.8" fill="none"/>
<circle cx="139.9" cy="234.5" r="5.8" fill="#008000"/>
<path d="M217.2,211.1V213.7M213.6,211.1H220.8M213.6,213.7H220.8" stroke="#008000" stroke-width="1.8" fill="none"/>
<circle cx="217.2" cy="212.4" r="5.8" fill="#008000"/>
<path d="M294.5,197.7V200.2M290.9,197.7H298.1M290.9,200.2H298.1" stroke="#008000" stroke-width="1.8" fill="none"/>
<circle cx="294.5" cy="198.9" r="5.8" fill="#008000"/>
<path d="M371.8,235.5V238.0M368.2,235.5H375.4M368.2,238.0H375.4" stroke="#008000" stroke-width="1.8" fill="none"/>
<circle cx="371.8" cy="236.8" r="5.8" fill="#008000"/>
<path d="M449.1,242.3V244.9M445.5,242.3H452.7M445.5,244.9H452.7" stroke="#008000" stroke-width="1.8" fill="none"/>
<circle cx="449.1" cy="243.6" r="5.8" fill="#008000"/>
<path d="M526.4,246.7V249.2M522.8,246.7H530.0M522.8,249.2H530.0" stroke="#008000" stroke-width="1.8" fill="none"/>
<circle cx="526.4" cy="247.9" r="5.8" fill="#008000"/>
<path d="M62.6,314.9V317.5M59.0,314.9H66.2M59.0,317.5H66.2" stroke="#008000" stroke-width="1.8" fill="none"/>
<polygon points="62.6,310.8 68.4,321.6 56.8,321.6" fill="#008000"/>
<path d="M139.9,295.4V297.9M136.3,295.4H143.5M136.3,297.9H143.5" stroke="#008000" stroke-width="1.8" fill="none"/>
<polygon points="139.9,291.3 145.7,302.1 134.1,302.1" fill="#008000"/>
<path d="M217.2,283.2V285.7M213.6,283.2H220.8M213.6,285.7H220.8" stroke="#008000" stroke-width="1.8" fill="none"/>
<polygon points="217.2,279.1 223.0,289.9 211.4,289.9" fill="#008000"/>
<path d="M294.5,280.7V283.2M290.9,280.7H298.1M290.9,283.2H298.1" stroke="#008000" stroke-width="1.8" fill="none"/>
<polygon points="294.5,276.5 300.3,287.3 288.7,287.3" fill="#008000"/>
<path d="M371.8,281.9V284.5M368.2,281.9H375.4M368.2,284.5H375.4" stroke="#008000" stroke-width="1.8" fill="none"/>
<polygon points="371.8,277.8 377.6,288.6 366.0,288.6" fill="#008000"/>
<path d="M449.1,289.3V291.8M445.5,289.3H452.7M445.5,291.8H452.7" stroke="#008000" stroke-width="1.8" fill="none"/>
<polygon points="449.1,285.2 454.9,296.0 443.3,296.0" fill="#008000"/>
<path d="M526.4,292.3V294.9M522.8,292.3H530.0M522.8,294.9H530.0" stroke="#008000" stroke-width="1.8" fill="none"/>
<polygon points="526.4,288.2 532.2,299.0 520.6,299.0" fill="#008000"/>
<text transform="translate(68.8,225.1) scale(1.12,1)" text-anchor="middle" class="t" style="font-size:17px" fill="#ff0000" stroke="#ff0000" stroke-width="0.15">a</text>
<text transform="translate(77.6,250.4) scale(1.12,1)" text-anchor="middle" class="t" style="font-size:17px;letter-spacing:1.2px" fill="#ff0000" stroke="#ff0000" stroke-width="0.15">ab</text>
<text transform="translate(79.0,273.9) scale(1.12,1)" text-anchor="middle" class="t" style="font-size:17px;letter-spacing:1.2px" fill="#008000" stroke="#008000" stroke-width="0.15">ab</text>
<text transform="translate(77.3,289.5) scale(1.12,1)" text-anchor="middle" class="t" style="font-size:17px" fill="#0a2cc0" stroke="#0a2cc0" stroke-width="0.15">b</text>
<text transform="translate(72.3,308.9) scale(1.12,1)" text-anchor="middle" class="t" style="font-size:17px" fill="#0a2cc0" stroke="#0a2cc0" stroke-width="0.15">c</text>
<text transform="translate(72.2,331.7) scale(1.12,1)" text-anchor="middle" class="t" style="font-size:17px" fill="#008000" stroke="#008000" stroke-width="0.15">c</text>
<text transform="translate(141.1,167.4) scale(1.12,1)" text-anchor="middle" class="t" style="font-size:17px" fill="#ff0000" stroke="#ff0000" stroke-width="0.15">a</text>
<text transform="translate(141.2,202.6) scale(1.12,1)" text-anchor="middle" class="t" style="font-size:17px" fill="#0a2cc0" stroke="#0a2cc0" stroke-width="0.15">b</text>
<text transform="translate(140.6,248.0) scale(1.12,1)" text-anchor="middle" class="t" style="font-size:17px" fill="#0a2cc0" stroke="#0a2cc0" stroke-width="0.15">c</text>
<text transform="translate(150.9,248.0) scale(1.12,1)" text-anchor="middle" class="t" style="font-size:17px" fill="#ff0000" stroke="#ff0000" stroke-width="0.15">c</text>
<text transform="translate(140.0,283.4) scale(1.12,1)" text-anchor="middle" class="t" style="font-size:17px" fill="#0a2cc0" stroke="#0a2cc0" stroke-width="0.15">d</text>
<text transform="translate(141.0,318.2) scale(1.12,1)" text-anchor="middle" class="t" style="font-size:17px" fill="#008000" stroke="#008000" stroke-width="0.15">d</text>
<text transform="translate(217.5,103.6) scale(1.12,1)" text-anchor="middle" class="t" style="font-size:17px" fill="#ff0000" stroke="#ff0000" stroke-width="0.15">a</text>
<text transform="translate(217.7,194.3) scale(1.12,1)" text-anchor="middle" class="t" style="font-size:17px" fill="#ff0000" stroke="#ff0000" stroke-width="0.15">b</text>
<text transform="translate(212.3,236.0) scale(1.12,1)" text-anchor="middle" class="t" style="font-size:17px" fill="#0a2cc0" stroke="#0a2cc0" stroke-width="0.15">b</text>
<text transform="translate(225.1,236.0) scale(1.12,1)" text-anchor="middle" class="t" style="font-size:17px" fill="#008000" stroke="#008000" stroke-width="0.15">b</text>
<text transform="translate(218.2,268.2) scale(1.12,1)" text-anchor="middle" class="t" style="font-size:17px" fill="#0a2cc0" stroke="#0a2cc0" stroke-width="0.15">c</text>
<text transform="translate(217.9,301.7) scale(1.12,1)" text-anchor="middle" class="t" style="font-size:17px" fill="#008000" stroke="#008000" stroke-width="0.15">c</text>
<text transform="translate(294.5,90.6) scale(1.12,1)" text-anchor="middle" class="t" style="font-size:17px" fill="#ff0000" stroke="#ff0000" stroke-width="0.15">a</text>
<text transform="translate(295.1,178.1) scale(1.12,1)" text-anchor="middle" class="t" style="font-size:17px" fill="#ff0000" stroke="#ff0000" stroke-width="0.15">b</text>
<text transform="translate(305.1,178.1) scale(1.12,1)" text-anchor="middle" class="t" style="font-size:17px" fill="#008000" stroke="#008000" stroke-width="0.15">b</text>
<text transform="translate(294.6,238.6) scale(1.12,1)" text-anchor="middle" class="t" style="font-size:17px" fill="#0a2cc0" stroke="#0a2cc0" stroke-width="0.15">c</text>
<text transform="translate(295.0,272.0) scale(1.12,1)" text-anchor="middle" class="t" style="font-size:17px" fill="#008000" stroke="#008000" stroke-width="0.15">d</text>
<text transform="translate(295.0,305.0) scale(1.12,1)" text-anchor="middle" class="t" style="font-size:17px" fill="#0a2cc0" stroke="#0a2cc0" stroke-width="0.15">d</text>
<text transform="translate(371.9,111.7) scale(1.12,1)" text-anchor="middle" class="t" style="font-size:17px" fill="#ff0000" stroke="#ff0000" stroke-width="0.15">a</text>
<text transform="translate(372.8,179.0) scale(1.12,1)" text-anchor="middle" class="t" style="font-size:17px" fill="#0a2cc0" stroke="#0a2cc0" stroke-width="0.15">b</text>
<text transform="translate(382.4,225.8) scale(1.12,1)" text-anchor="middle" class="t" style="font-size:17px" fill="#ff0000" stroke="#ff0000" stroke-width="0.15">c</text>
<text transform="translate(371.8,250.9) scale(1.12,1)" text-anchor="middle" class="t" style="font-size:17px" fill="#008000" stroke="#008000" stroke-width="0.15">c</text>
<text transform="translate(383.0,273.7) scale(1.12,1)" text-anchor="middle" class="t" style="font-size:17px" fill="#008000" stroke="#008000" stroke-width="0.15">d</text>
<text transform="translate(383.0,301.5) scale(1.12,1)" text-anchor="middle" class="t" style="font-size:17px" fill="#0a2cc0" stroke="#0a2cc0" stroke-width="0.15">d</text>
<text transform="translate(450.4,125.5) scale(1.12,1)" text-anchor="middle" class="t" style="font-size:17px" fill="#ff0000" stroke="#ff0000" stroke-width="0.15">a</text>
<text transform="translate(449.9,229.4) scale(1.12,1)" text-anchor="middle" class="t" style="font-size:17px" fill="#ff0000" stroke="#ff0000" stroke-width="0.15">b</text>
<text transform="translate(446.4,265.1) scale(1.12,1)" text-anchor="middle" class="t" style="font-size:17px" fill="#0a2cc0" stroke="#0a2cc0" stroke-width="0.15">b</text>
<text transform="translate(456.1,265.1) scale(1.12,1)" text-anchor="middle" class="t" style="font-size:17px" fill="#008000" stroke="#008000" stroke-width="0.15">b</text>
<text transform="translate(445.2,307.2) scale(1.12,1)" text-anchor="middle" class="t" style="font-size:17px" fill="#0a2cc0" stroke="#0a2cc0" stroke-width="0.15">c</text>
<text transform="translate(455.5,307.2) scale(1.12,1)" text-anchor="middle" class="t" style="font-size:17px" fill="#008000" stroke="#008000" stroke-width="0.15">c</text>
<text transform="translate(526.7,148.0) scale(1.12,1)" text-anchor="middle" class="t" style="font-size:17px" fill="#ff0000" stroke="#ff0000" stroke-width="0.15">a</text>
<text transform="translate(526.7,233.8) scale(1.12,1)" text-anchor="middle" class="t" style="font-size:17px" fill="#ff0000" stroke="#ff0000" stroke-width="0.15">b</text>
<text transform="translate(521.7,270.3) scale(1.12,1)" text-anchor="middle" class="t" style="font-size:17px" fill="#0a2cc0" stroke="#0a2cc0" stroke-width="0.15">b</text>
<text transform="translate(531.8,270.3) scale(1.12,1)" text-anchor="middle" class="t" style="font-size:17px" fill="#008000" stroke="#008000" stroke-width="0.15">b</text>
<text transform="translate(522.3,311.6) scale(1.12,1)" text-anchor="middle" class="t" style="font-size:17px" fill="#0a2cc0" stroke="#0a2cc0" stroke-width="0.15">c</text>
<text transform="translate(532.5,311.6) scale(1.12,1)" text-anchor="middle" class="t" style="font-size:17px" fill="#008000" stroke="#008000" stroke-width="0.15">c</text>
<line x1="120.2" y1="22.5" x2="161.6" y2="22.5" stroke="#0a2cc0" stroke-width="1.6"/><polygon points="143.2,16.7 149.2,28.3 137.2,28.3" fill="none" stroke="#0a2cc0" stroke-width="1.6"/><text x="171.5" y="29.0" class="t k">NP+E</text>
<line x1="262.1" y1="22.5" x2="303.8" y2="22.5" stroke="#0a2cc0" stroke-width="1.6"/><polygon points="282.7,16.6 289.2,29.1 276.2,29.1" fill="#0a2cc0"/><text x="310.5" y="29.0" class="t k">CP+E</text>
<line x1="401.3" y1="22.5" x2="443.1" y2="22.5" stroke="#008000" stroke-width="1.6"/><polygon points="423.2,16.6 429.7,29.1 416.7,29.1" fill="#008000"/><text x="449.0" y="29.0" class="t k">CP-E</text>
<line x1="120.2" y1="50.7" x2="161.6" y2="50.7" stroke="#ff0000" stroke-width="1.6"/><circle cx="143.5" cy="51.6" r="5.9" fill="none" stroke="#ff0000" stroke-width="1.8"/><text x="170.5" y="57.2" class="t k">NO+E</text>
<line x1="261.9" y1="50.7" x2="303.8" y2="50.7" stroke="#ff0000" stroke-width="1.6"/><circle cx="280.5" cy="51.6" r="6.6" fill="#ff0000"/><text x="310.5" y="57.2" class="t k">CO+E</text>
<line x1="402.1" y1="50.4" x2="443.8" y2="50.4" stroke="#008000" stroke-width="1.6"/><circle cx="423.9" cy="51.1" r="6.6" fill="#008000"/><text x="449.8" y="56.9" class="t k">CO-E</text>
</svg></body></html>
